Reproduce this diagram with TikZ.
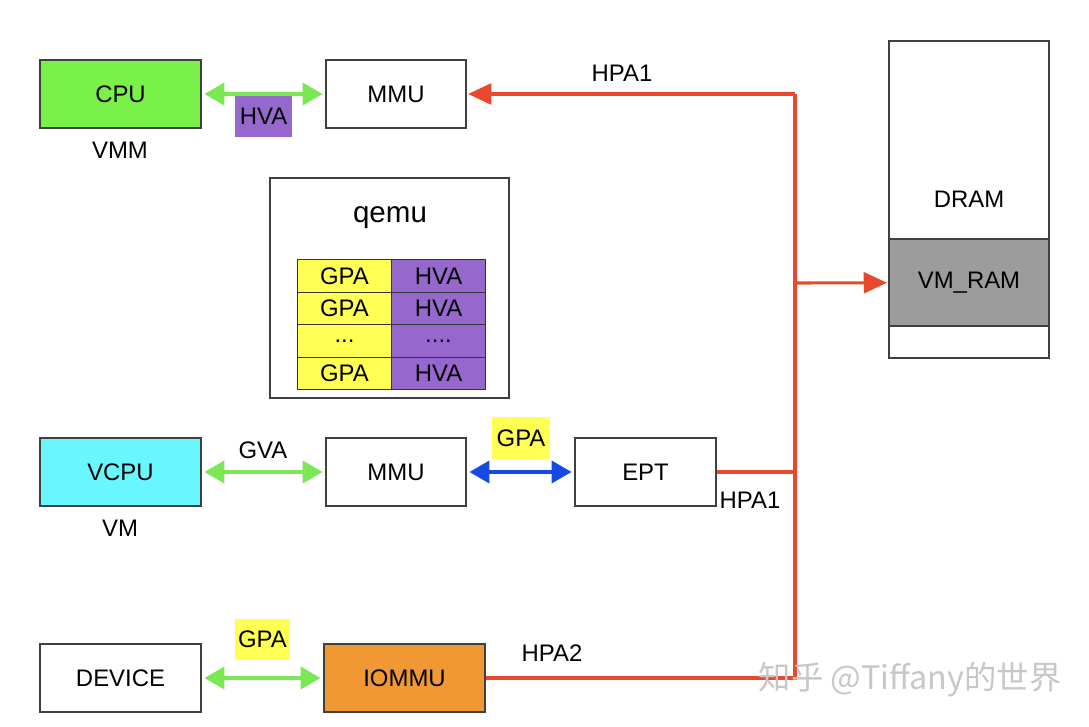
\documentclass[tikz,border=0pt]{standalone}
\usepackage{fontspec}
\setmainfont{Liberation Sans}
\newfontfamily\cjkfont{Noto Sans CJK SC}
\usetikzlibrary{arrows.meta}
\definecolor{cpugreen}{RGB}{122,240,74}
\definecolor{vcpucyan}{RGB}{104,246,255}
\definecolor{iommuorange}{RGB}{240,152,52}
\definecolor{gpayellow}{RGB}{255,255,84}
\definecolor{hvapurple}{RGB}{150,104,206}
\definecolor{ramgray}{RGB}{156,156,156}
\definecolor{linkgreen}{RGB}{122,232,82}
\definecolor{eptblue}{RGB}{22,72,228}
\definecolor{hpared}{RGB}{232,72,44}
\begin{document}
\begin{tikzpicture}[x=0.025cm, y=-0.025cm, font=\fontsize{17}{20}\selectfont,
    box/.style={draw=black!75, line width=0.9pt, minimum width=4.025cm, minimum height=1.7cm, inner sep=0pt},
    tag/.style={inner sep=0pt, minimum height=1.025cm},
    cell/.style={draw=black!80, line width=0.8pt, minimum width=2.35cm, minimum height=0.8125cm, inner sep=0pt},
    link/.style={line width=2.8pt, draw=linkgreen, shorten <=2pt, shorten >=2pt,
        {Triangle[length=0.5cm,width=0.55cm]}-{Triangle[length=0.5cm,width=0.55cm]}},
    hpa/.style={line width=2.2pt, draw=hpared},
    hpato/.style={hpa, shorten >=1pt, -{Triangle[length=0.58cm,width=0.52cm]}}]
\useasboundingbox (0,0) rectangle (1089,727);
% host side
\node[box, fill=cpugreen] (cpu) at (120.5,94) {CPU};
\node (vmm) at (120,150) {VMM};
\node[box, minimum width=3.5cm] (mmuh) at (396,94) {MMU};
\node[tag, fill=hvapurple, minimum width=1.425cm] (hva) at (263.5,116.5) {HVA};
\node (hpaa) at (622,73) {HPA1};
% memory
\node[box, minimum width=4cm, minimum height=7.925cm] (dram) at (969,199.5) {DRAM};
\node[box, fill=ramgray, minimum width=4cm, minimum height=2.175cm] (vmram) at (969,282.5) {VM\_RAM};
% qemu table
\node[box, minimum width=5.975cm, minimum height=5.5cm] (qemu) at (389.5,288) {};
\node[font=\fontsize{21}{24}\selectfont] (qemulabel) at (390,218) {qemu};
\foreach \r in {0,1,3}{
    \node[cell, fill=gpayellow] (g\r) at (344.5,{276+32.5*\r}) {GPA};
    \node[cell, fill=hvapurple] (h\r) at (438.5,{276+32.5*\r}) {HVA};
}
\node[cell, fill=gpayellow] (g2) at (344.5,341) {...};
\node[cell, fill=hvapurple] (h2) at (438.5,341) {....};
% guest side
\node[box, fill=vcpucyan] (vcpu) at (120.5,472) {VCPU};
\node (vm) at (120,528) {VM};
\node[box, minimum width=3.5cm] (mmug) at (396,472) {MMU};
\node[box, minimum width=3.525cm] (ept) at (645.5,472) {EPT};
\node (gva) at (263,450) {GVA};
\node[tag, fill=gpayellow, minimum width=1.45cm] (gpaa) at (521,438) {GPA};
\node (hpab) at (750,500) {HPA1};
% device side
\node[box] (device) at (120.5,678) {DEVICE};
\node[box, fill=iommuorange] (iommu) at (404.5,678) {IOMMU};
\node[tag, fill=gpayellow, minimum width=1.375cm] (gpab) at (262.5,639) {GPA};
\node (hpac) at (552,653) {HPA2};
% bus
\coordinate (bustop) at (795,94);
\coordinate (busram) at (795,283);
\coordinate (busept) at (795,472);
\coordinate (busbot) at (795,678);
\draw[link] (cpu) -- (mmuh);
\draw[link] (vcpu) -- (mmug);
\draw[link, draw=eptblue] (mmug) -- (ept);
\draw[link] (device) -- (iommu);
\draw[hpato] (bustop) -- (mmuh);
\draw[hpa] (bustop) -- (busbot) -- (iommu);
\draw[hpa] (ept) -- (busept);
\draw[hpato] (busram) -- (vmram);
\node[text=black!22, font=\cjkfont\fontsize{23}{26}\selectfont] (mark) at (910,680) {知乎 @Tiffany的世界};
\end{tikzpicture}
\end{document}
